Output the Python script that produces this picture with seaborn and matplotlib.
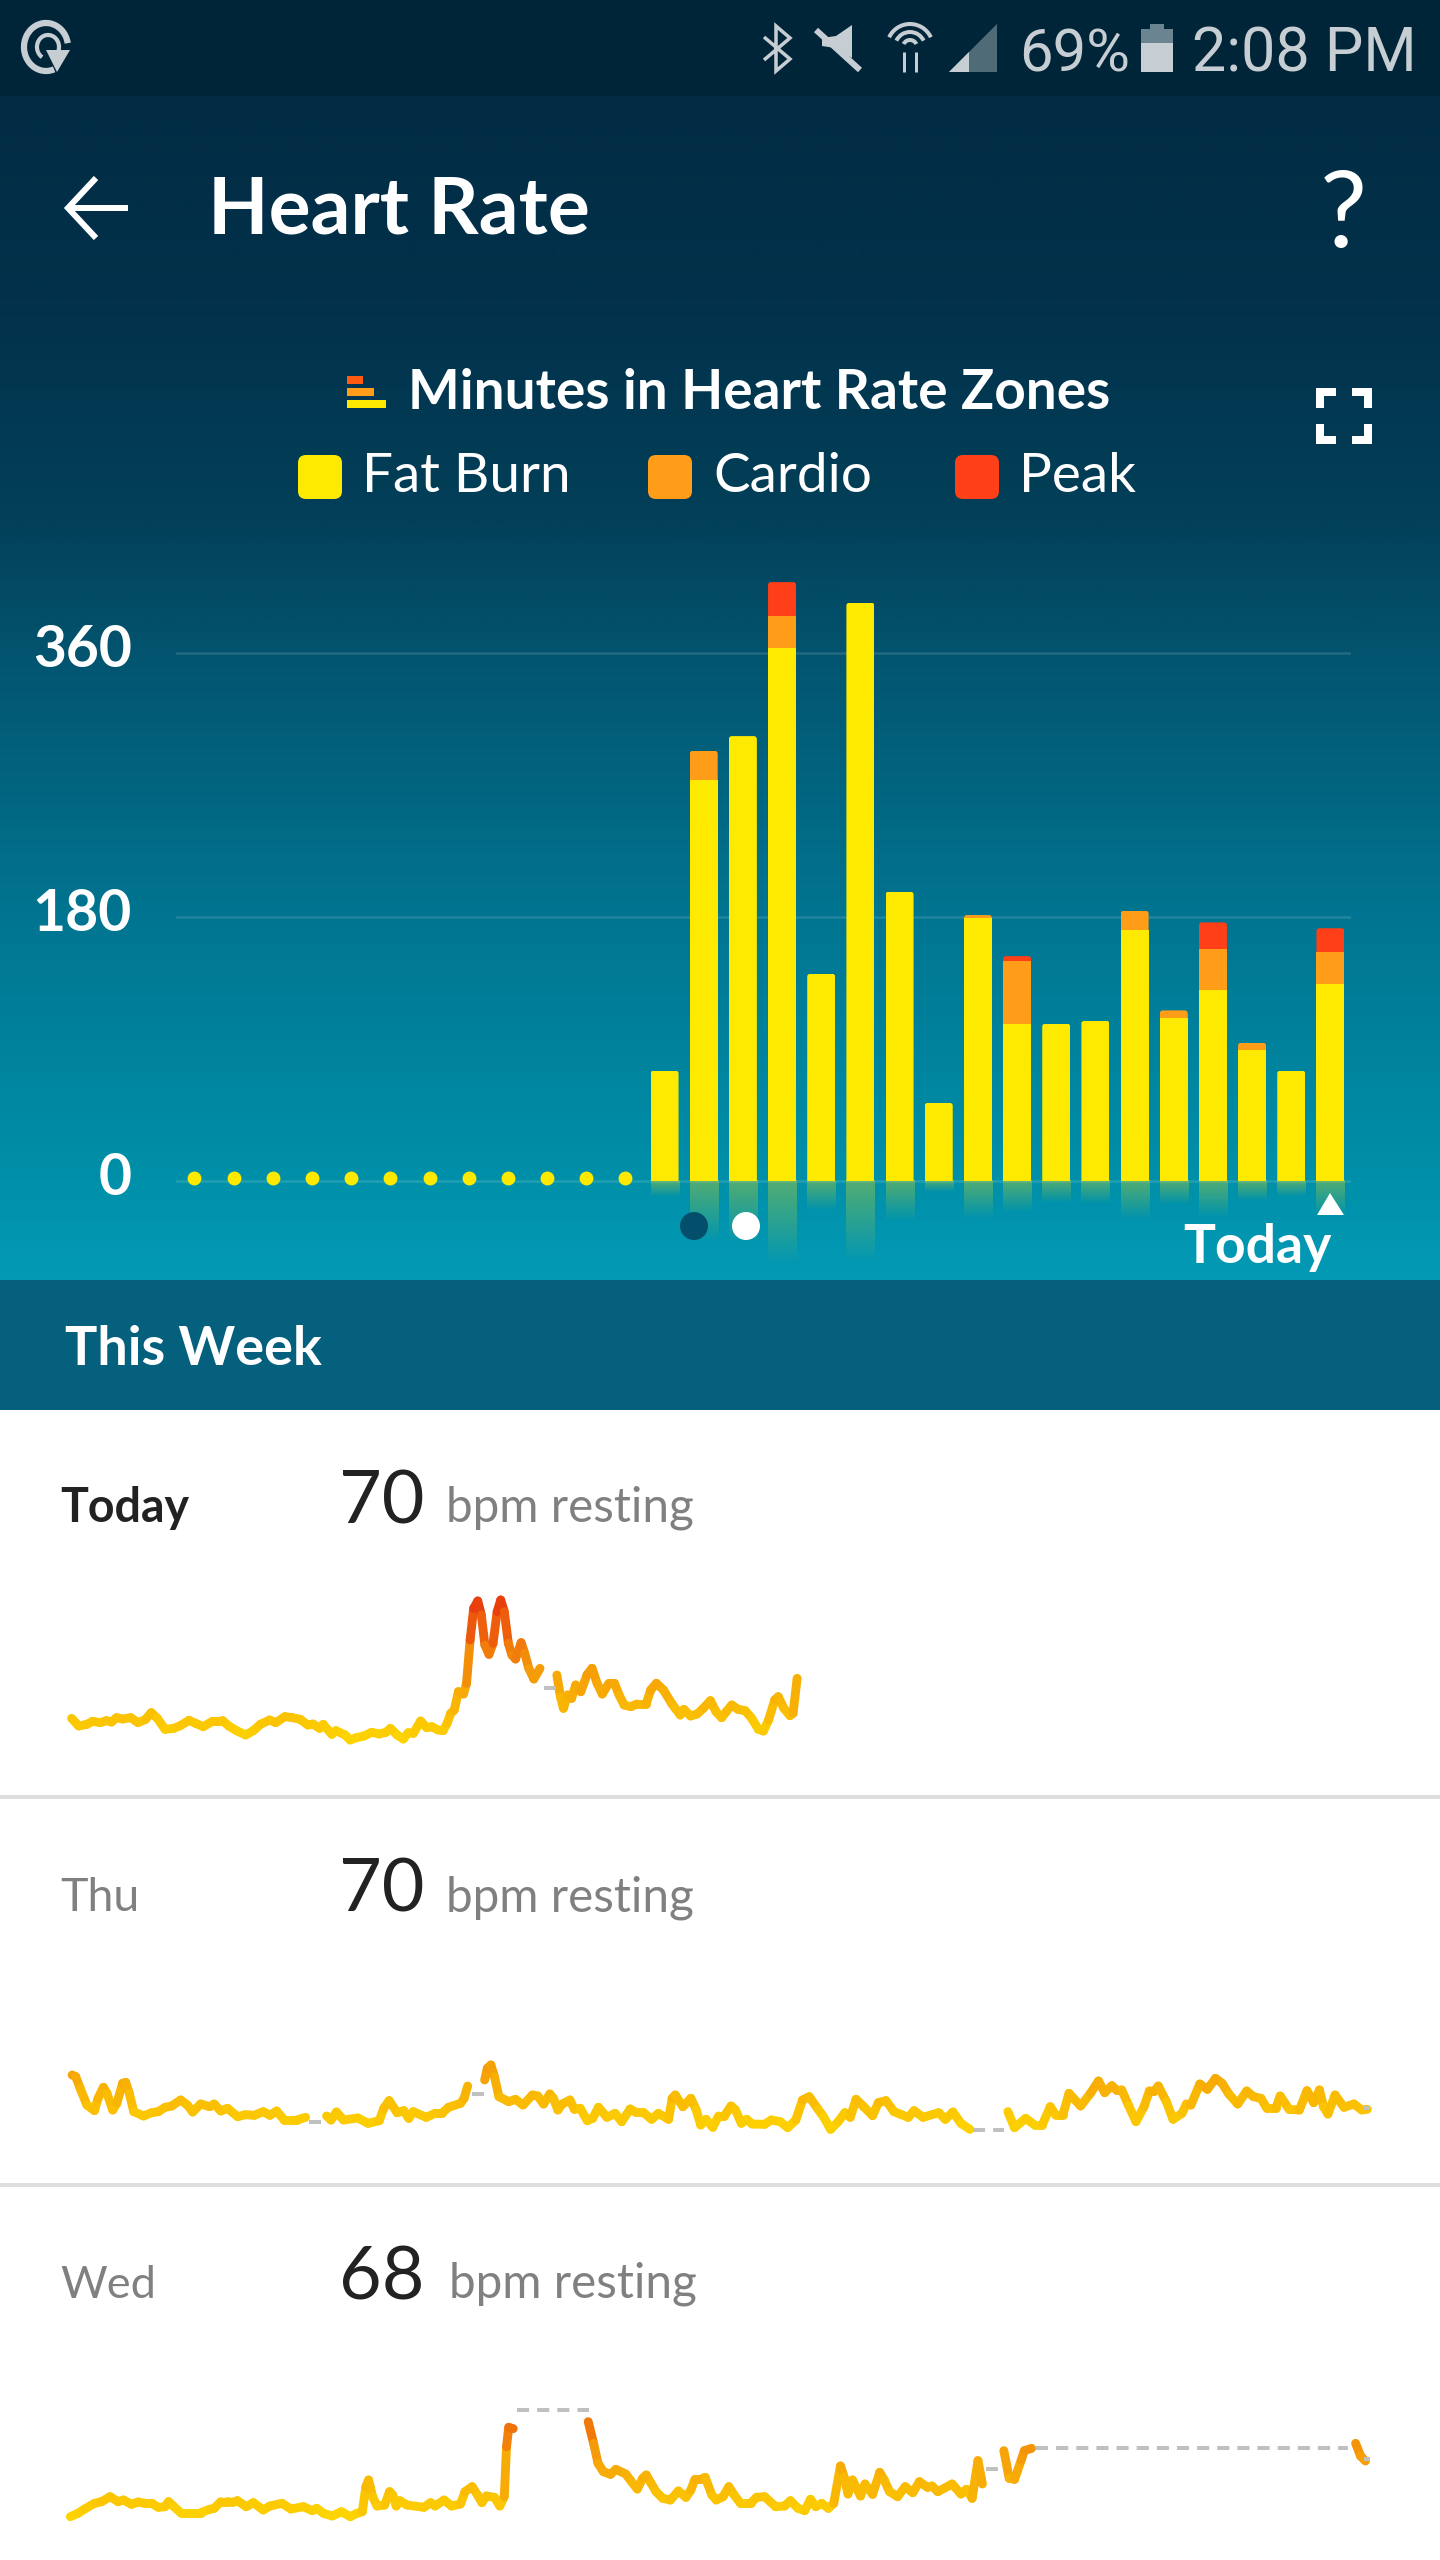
from __future__ import annotations

import matplotlib

matplotlib.use("Agg")

import matplotlib.pyplot as plt
import numpy as np
import pandas as pd
import seaborn as sns
from matplotlib.colors import LinearSegmentedColormap, Normalize, to_rgb
from matplotlib.patches import Arc, Circle, FancyBboxPatch, Polygon, Rectangle
from matplotlib.transforms import IdentityTransform, ScaledTranslation

W, H = 1440, 2560

# minutes per zone for the last 30 days (first 12 have no data)
DAYS = list(range(30))
FAT_BURN = [0] * 12 + [75, 273, 303, 363, 141, 394, 197, 53, 179, 107, 107, 109, 171, 111, 130, 89, 75, 134]
CARDIO = [0] * 12 + [0, 20, 0, 22, 0, 0, 0, 0, 2, 43, 0, 0, 13, 5, 28, 5, 0, 22]
PEAK = [0] * 12 + [0, 0, 0, 23, 0, 0, 0, 0, 0, 3, 0, 0, 0, 0, 18, 0, 0, 16]
EMPTY_DAYS = DAYS[:12]
EMPTY_LEVEL = [2] * 12
Y_TICKS = [0, 180, 360]
LEGEND_LABELS = ["Fat Burn", "Cardio", "Peak"]

# resting rows: label, resting bpm
ROW_LABELS = ["Today", "Thu", "Wed"]
ROW_RESTING = ["70", "70", "68"]

# sparklines, one x and one level list per unbroken run
TODAY_X1 = [62, 76, 92, 103, 118, 130, 140, 150, 162, 178, 192, 207, 218, 230, 245, 262, 275, 292, 305, 320, 338, 350, 358, 370, 385, 403, 418, 432, 450, 462, 480, 495, 510, 525, 535, 548, 555, 572, 580, 598, 608, 620, 635, 650, 665, 678, 687, 700, 712, 722, 732, 746, 758, 768, 780, 790, 798, 805, 812, 820, 830, 836, 843, 850, 858, 865, 872, 880, 888, 896, 903, 910, 918, 925, 932, 943, 950, 958, 968, 980]
TODAY_Y1 = [125, 102, 107, 116, 112, 118, 114, 127, 123, 127, 112, 122, 142, 125, 92, 95, 103, 119, 110, 100, 116, 115, 118, 102, 88, 75, 88, 107, 120, 112, 130, 127, 122, 105, 108, 95, 107, 77, 88, 75, 60, 67, 72, 83, 78, 83, 95, 75, 63, 82, 80, 117, 97, 100, 90, 88, 110, 140, 150, 205, 198, 230, 360, 455, 477, 435, 345, 317, 350, 445, 480, 445, 350, 315, 303, 352, 320, 275, 243, 275]
TODAY_X2 = [1013, 1020, 1026, 1034, 1042, 1050, 1060, 1072, 1082, 1092, 1102, 1115, 1126, 1135, 1145, 1158, 1170, 1188, 1197, 1208, 1222, 1238, 1245, 1255, 1262, 1275, 1288, 1300, 1314, 1325, 1336, 1345, 1356, 1368, 1382, 1395, 1408, 1418, 1428, 1440, 1447, 1458, 1470, 1476, 1484]
TODAY_Y2 = [255, 190, 155, 195, 185, 225, 205, 255, 275, 230, 198, 230, 230, 195, 165, 160, 168, 168, 210, 230, 210, 170, 155, 135, 152, 132, 138, 155, 178, 145, 127, 145, 165, 152, 148, 125, 92, 87, 120, 180, 190, 155, 133, 140, 245]

THU_X1 = [72, 80, 90, 105, 122, 130, 142, 150, 163, 172, 185, 192, 200, 210, 232, 250, 265, 280, 295, 315, 330, 342, 360, 380, 390, 405, 420, 443, 460, 480, 500, 515, 530, 547, 575, 595]
THU_Y1 = [345, 340, 305, 255, 238, 275, 308, 290, 240, 260, 320, 323, 290, 235, 222, 232, 235, 248, 252, 270, 255, 234, 258, 250, 258, 237, 245, 220, 226, 224, 235, 224, 237, 210, 210, 218]
THU_X2 = [642, 652, 664, 680, 712, 735, 760, 770, 782, 800, 815, 826, 836, 865, 885, 900, 915, 942, 950, 958]
THU_Y2 = [222, 210, 234, 210, 216, 200, 208, 245, 268, 232, 238, 215, 235, 218, 230, 230, 248, 260, 275, 312]
THU_X3 = [996, 1002, 1010, 1018, 1028, 1050, 1065, 1082, 1103, 1115, 1128, 1142, 1150, 1160, 1170, 1187, 1197, 1210, 1226, 1238, 1251, 1270, 1288, 1303, 1322, 1335, 1352, 1370, 1385, 1408, 1416, 1423, 1440, 1458, 1470, 1480, 1492, 1507, 1520, 1533, 1548, 1558, 1571, 1583, 1595, 1623, 1638, 1658, 1675, 1693, 1708, 1723, 1743, 1755, 1771, 1788, 1803, 1815, 1828, 1845, 1865, 1878, 1895, 1913, 1928, 1945, 1958, 1978, 2013, 2028, 2045, 2063, 2083]
THU_Y3 = [330, 365, 375, 340, 280, 265, 272, 255, 285, 282, 258, 288, 275, 240, 258, 270, 242, 245, 208, 215, 248, 218, 230, 205, 243, 233, 232, 212, 230, 212, 275, 285, 250, 275, 240, 195, 212, 188, 222, 222, 252, 240, 200, 212, 198, 197, 210, 205, 187, 210, 270, 280, 242, 220, 182, 205, 232, 218, 272, 250, 223, 262, 268, 235, 227, 218, 238, 218, 232, 212, 234, 200, 182]
THU_X4 = [2168, 2183, 2208, 2228, 2245, 2263, 2275, 2291, 2305, 2331, 2353, 2371, 2385, 2401, 2413, 2423, 2438, 2455, 2473, 2485, 2495, 2505, 2523, 2538, 2558, 2568, 2578, 2598, 2615, 2633, 2648, 2663, 2683, 2703, 2718, 2735, 2748, 2768, 2778, 2798, 2821, 2838, 2853, 2866, 2875, 2885, 2901, 2921, 2943, 2961, 2973]
THU_Y4 = [235, 187, 215, 195, 195, 250, 225, 225, 290, 252, 290, 327, 292, 313, 298, 300, 255, 205, 250, 297, 295, 312, 265, 212, 230, 258, 255, 318, 302, 335, 320, 288, 258, 297, 280, 275, 245, 245, 282, 242, 240, 298, 262, 300, 250, 228, 285, 248, 258, 240, 242]

WED_X1 = [68, 85, 100, 122, 138, 157, 175, 187, 205, 220, 235, 250, 265, 280, 288, 300, 315, 360, 380, 390, 405, 420, 432, 442, 462, 478, 500, 515, 542, 562, 590, 610, 620, 635, 655, 675, 695, 710, 722, 730, 736, 745, 755, 772, 783, 790, 798, 806, 822, 860, 875, 885, 905, 922, 942, 952, 968, 980, 990, 1000, 1018, 1030, 1040, 1045, 1050, 1060]
WED_Y1 = [130, 140, 153, 170, 175, 190, 175, 180, 167, 174, 170, 170, 158, 160, 175, 160, 142, 142, 152, 155, 175, 175, 173, 178, 160, 172, 150, 162, 170, 153, 160, 148, 155, 140, 132, 145, 130, 140, 145, 220, 240, 190, 162, 165, 205, 195, 162, 178, 165, 158, 172, 162, 180, 162, 168, 205, 220, 195, 172, 192, 188, 162, 190, 340, 398, 394]
WED_X2 = [1228, 1240, 1250, 1262, 1278, 1290, 1312, 1325, 1338, 1350, 1358, 1368, 1380, 1395, 1412, 1430, 1447, 1458, 1467, 1480, 1490, 1505, 1515, 1530, 1543, 1555, 1568, 1593, 1605, 1623, 1648, 1668, 1681, 1698, 1713, 1726, 1738, 1751, 1766, 1778, 1793, 1801, 1810, 1820, 1838, 1848, 1865, 1881, 1891, 1903, 1921, 1938, 1955, 1970, 1988, 1998, 2011, 2043, 2063, 2075, 2088, 2101, 2111]
WED_Y2 = [415, 350, 290, 265, 257, 272, 258, 235, 213, 245, 255, 232, 205, 185, 180, 207, 188, 210, 242, 242, 248, 195, 180, 190, 220, 195, 172, 172, 188, 190, 160, 162, 178, 155, 148, 182, 160, 170, 155, 170, 282, 250, 198, 240, 192, 228, 197, 263, 240, 205, 190, 220, 202, 235, 218, 222, 205, 228, 198, 212, 185, 298, 228]
WED_X3 = [2159, 2171, 2183, 2198, 2205, 2221]
WED_Y3 = [328, 245, 242, 300, 328, 335]
WED_X4 = [2947, 2958, 2969]
WED_Y4 = [350, 312, 297]

# missing stretches: start, end, level
TODAY_GAPS = [(988, 1012, 217)]
THU_GAPS = [(603, 630, 205), (968, 995, 289), (2090, 2160, 180), (2966, 2979, 247)]
WED_GAPS = [(1068, 1230, 450), (2120, 2147, 273), (2231, 2931, 337), (2966, 2979, 303)]

YELLOW, ORANGE, RED = "#fdea00", "#ff9d19", "#ff3f17"
STATUS_GREY = "#c6ced3"
BG_STOPS_Y = [96, 300, 520, 660, 900, 1180, 1280]
BG_STOPS_C = ["#022c44", "#02314b", "#034059", "#035570", "#01738f", "#0090a9", "#039ab6"]
SPARK_CMAP = LinearSegmentedColormap.from_list("hr", ["#fdd500", "#f59a08", "#e8360f"])
FONT = "Lato"


def px_axes(fig, x, y, w, h, zorder):
    ax = fig.add_axes([x / W, 1 - (y + h) / H, w / W, h / H], zorder=zorder)
    ax.patch.set_alpha(0)
    return ax


def poly(ax, pts, color, lw):
    xs, ys = zip(*pts)
    ax.plot(xs, ys, color=color, lw=lw * 0.72, solid_capstyle="butt", solid_joinstyle="miter")


def draw_background(ax):
    ax.set_xlim(0, W)
    ax.set_ylim(H, 0)
    ax.axis("off")
    rows = np.arange(96, 1281)
    rgb = np.array([to_rgb(c) for c in BG_STOPS_C])
    grad = np.stack([np.interp(rows, BG_STOPS_Y, rgb[:, i]) for i in range(3)], axis=1)[:, None, :]
    ax.imshow(grad, extent=(0, W, 1280, 96), aspect="auto", interpolation="bilinear")
    ax.set_xlim(0, W)
    ax.set_ylim(H, 0)
    ax.add_patch(Rectangle((0, 0), W, 96, color="#012538", lw=0))
    ax.add_patch(Rectangle((0, 1280), W, 130, color="#04607c", lw=0))
    ax.add_patch(Rectangle((0, 1410), W, H - 1410, color="white", lw=0))
    for y in (1797, 2185):
        ax.add_patch(Rectangle((0, y - 2), W, 4, color="#dedede", lw=0))


def draw_status_bar(ax):
    g = STATUS_GREY
    ax.add_patch(Arc((46, 47), 44, 48, theta1=70, theta2=350, color=g, lw=4.5))
    ax.add_patch(Arc((48, 47), 22, 24, theta1=120, theta2=400, color=g, lw=3))
    ax.add_patch(Polygon([(46, 50), (70, 50), (57, 72)], color=g, lw=0))
    poly(ax, [(764, 37), (790, 59), (776, 71), (776, 26), (790, 38), (764, 60)], g, 3.5)
    ax.add_patch(Polygon([(852, 25), (852, 58), (835, 48), (822, 46), (822, 38), (836, 36)], color=g, lw=0))
    poly(ax, [(816, 30), (860, 70)], g, 6)
    for r, lw in ((23, 4), (15, 4), (7, 4)):
        ax.add_patch(Arc((910, 47), 2 * r, 2 * r, theta1=205, theta2=335, color=g, lw=lw * 0.72))
    poly(ax, [(904, 52), (904, 72)], g, 3)
    poly(ax, [(916, 52), (916, 72)], g, 3)
    ax.add_patch(Polygon([(949, 72), (997, 72), (997, 24)], color="#4f6b78", lw=0))
    ax.add_patch(Polygon([(949, 72), (969, 72), (969, 52)], color=g, lw=0))
    ax.add_patch(Rectangle((1150, 24), 14, 6, color="#6a8591", lw=0))
    ax.add_patch(Rectangle((1141, 29), 32, 14, color="#6a8591", lw=0))
    ax.add_patch(Rectangle((1141, 43), 32, 29, color=g, lw=0))
    ax.text(1019, 72, "69%", color=g, fontsize=43, family="Roboto", weight="normal", va="baseline")
    ax.text(1192, 72, "2:08 PM", color=g, fontsize=44, family="Roboto", weight="normal", va="baseline")


def draw_header(ax):
    poly(ax, [(128, 208), (70, 208)], "white", 6)
    poly(ax, [(96, 178), (68, 208), (96, 238)], "white", 6)
    ax.text(208, 233, "Heart Rate", color="white", fontsize=56.5, family=FONT, weight="bold", va="baseline")
    ax.text(1343, 247, "?", color="white", fontsize=76, family=FONT, weight="normal", ha="center", va="baseline")
    for cx, cy, sx, sy in ((1316, 388, 1, 1), (1372, 388, -1, 1), (1316, 444, 1, -1), (1372, 444, -1, -1)):
        poly(ax, [(cx + 4 * sx, cy + 20 * sy), (cx + 4 * sx, cy + 4 * sy), (cx + 20 * sx, cy + 4 * sy)], "white", 8)
    for top, width, color in ((376, 16, "#ff5a10"), (388, 27, ORANGE), (400, 39, YELLOW)):
        ax.add_patch(Rectangle((347, top), width, 8, color=color, lw=0))
    ax.text(408, 409, "Minutes in Heart Rate Zones", color="white", fontsize=39.5, family=FONT, weight="bold", va="baseline")
    for x_sw, x_txt, label, color in zip((298, 648, 955), (362, 713, 1019), LEGEND_LABELS, (YELLOW, ORANGE, RED)):
        ax.add_patch(FancyBboxPatch((x_sw + 6, 461), 32, 32, boxstyle="round,pad=6,rounding_size=8", color=color, lw=0))
        ax.text(x_txt, 492, label, color="white", fontsize=39.5, family=FONT, weight="normal", va="baseline")
    ax.text(65, 1365, "This Week", color="white", fontsize=39, family=FONT, weight="bold", va="baseline")


def draw_chart(fig):
    ax = px_axes(fig, 176, 540, 1175, 740, 2)
    df = pd.DataFrame({"day": DAYS, "fat": FAT_BURN, "cardio": CARDIO, "peak": PEAK})
    fat, cardio, peak = df["fat"].to_numpy(), df["cardio"].to_numpy(), df["peak"].to_numpy()
    for col, color, bottom in (("fat", YELLOW, 0 * fat), ("cardio", ORANGE, fat), ("peak", RED, fat + cardio)):
        sns.barplot(data=df, x="day", y=col, color=color, saturation=1, width=0.715, bottom=bottom, errorbar=None,
                    linewidth=0, edgecolor="none", ax=ax, zorder=3)
    sns.scatterplot(x=EMPTY_DAYS, y=EMPTY_LEVEL, color=YELLOW, s=100, linewidth=0, ax=ax, zorder=3)

    ylim = (-67.8, 436.7)
    xlim = (-0.472, 29.525)

    # mirrored fade under the baseline
    fade = np.zeros((32, 1, 4))
    fade[..., :3] = to_rgb(YELLOW)
    fade[..., 3] = np.linspace(0.32, 0, 32)[:, None]
    total = fat + cardio + peak
    for day, height in zip(DAYS, total):
        if height > 0:
            ax.imshow(fade, extent=(day - 0.3575, day + 0.3575, -0.145 * height, 0), aspect="auto", zorder=2, interpolation="bilinear")

    ax.set_xlim(*xlim)
    ax.set_ylim(*ylim)
    ax.set_xticks([])
    ax.set_xlabel("")
    ax.set_ylabel("")
    ax.set_yticks(Y_TICKS)
    ax.set_yticklabels([str(t) for t in Y_TICKS], family=FONT, fontsize=41, weight="bold", color="white")
    ax.tick_params(axis="y", length=0, pad=32)
    offset = ScaledTranslation(0, 7 / 100, fig.dpi_scale_trans)
    for label in ax.get_yticklabels():
        label.set_transform(label.get_transform() + offset)
    ax.yaxis.grid(True, color="white", alpha=0.13, lw=1.8)
    ax.xaxis.grid(False)
    ax.set_axisbelow(True)
    for spine in ax.spines.values():
        spine.set_visible(False)

    # small rounded corners on the top segment of each bar
    for i, day in enumerate(DAYS):
        if total[i] == 0:
            continue
        layer = 2 if peak[i] else (1 if cardio[i] else 0)
        bar = ax.containers[layer][i]
        (x0, y0), (x1, y1) = ax.transData.transform([(bar.get_x(), bar.get_y()), (bar.get_x() + bar.get_width(), total[i])])
        clip = FancyBboxPatch((x0, y0 - 12), x1 - x0, y1 - y0 + 12, boxstyle="round,pad=0,rounding_size=3", transform=IdentityTransform())
        bar.set_clip_path(clip)
    return ax


def draw_front(ax):
    ax.set_xlim(0, W)
    ax.set_ylim(H, 0)
    ax.axis("off")
    ax.add_patch(Circle((694, 1226), 14, color="#034f6b", lw=0))
    ax.add_patch(Circle((746, 1226), 14, color="white", lw=0))
    ax.add_patch(Polygon([(1330, 1193), (1317, 1215), (1344, 1215)], color="white", lw=0))
    ax.text(1183, 1263, "Today", color="white", fontsize=38.5, family=FONT, weight="bold", va="baseline")


def sparkline(ax, runs, gaps, vmin, vmax, xmax, ymax):
    norm = Normalize(vmin, vmax)
    seg_x, seg_y, seg_id, palette = [], [], [], {}
    n = 0
    for xs, ys in runs:
        for i in range(len(xs) - 1):
            seg_x += [xs[i], xs[i + 1]]
            seg_y += [ys[i], ys[i + 1]]
            seg_id += [n, n]
            palette[n] = SPARK_CMAP(norm((ys[i] + ys[i + 1]) / 2))
            n += 1
    df = pd.DataFrame({"t": seg_x, "hr": seg_y, "seg": seg_id})
    sns.lineplot(data=df, x="t", y="hr", hue="seg", palette=palette, estimator=None, sort=False, legend=False,
                 linewidth=6.4, solid_capstyle="round", ax=ax)
    for x0, x1, level in gaps:
        ax.plot([x0, x1], [level, level], color="#c0c0c0", lw=2.9, dashes=(3, 2), dash_capstyle="butt")
    ax.set_xlim(0, xmax)
    ax.set_ylim(0, ymax)
    ax.axis("off")


def draw_rows(ax):
    label_y = (1522, 1911, 2298)
    for i, (name, rest, y) in enumerate(zip(ROW_LABELS, ROW_RESTING, label_y)):
        bold = i == 0
        ax.text(60, y, name, color="#222222" if bold else "#808080", fontsize=33.5 if i < 2 else 32.5, family=FONT, weight="bold" if bold else "normal", va="baseline")
        ax.text(339, y + 1, rest, color="#222222", fontsize=53, family=FONT, weight="normal", va="baseline")
        ax.text(446 if i < 2 else 449, y, "bpm resting", color="#808080", fontsize=34.3, family=FONT, weight="normal", va="baseline")


def main() -> None:
    sns.set_theme(style="white")
    plt.rcParams["font.family"] = [FONT, "DejaVu Sans"]

    fig = plt.figure(figsize=(W / 100, H / 100), dpi=100)
    bg = fig.add_axes([0, 0, 1, 1], zorder=0)
    draw_background(bg)
    draw_status_bar(bg)
    draw_header(bg)
    draw_rows(bg)

    draw_chart(fig)
    front = fig.add_axes([0, 0, 1, 1], zorder=3)
    front.patch.set_alpha(0)
    draw_front(front)

    sparkline(px_axes(fig, 40, 1540, 800, 220, 1), [(TODAY_X1, TODAY_Y1), (TODAY_X2, TODAY_Y2)], TODAY_GAPS, 60, 480, 1568, 660)
    sparkline(px_axes(fig, 40, 2030, 1400, 160, 1), [(THU_X1, THU_Y1), (THU_X2, THU_Y2), (THU_X3, THU_Y3), (THU_X4, THU_Y4)], THU_GAPS, 180, 580, 3136, 480)
    sparkline(px_axes(fig, 40, 2380, 1400, 180, 1), [(WED_X1, WED_Y1), (WED_X2, WED_Y2), (WED_X3, WED_Y3), (WED_X4, WED_Y4)], WED_GAPS, 130, 510, 3136, 540)

    fig.savefig("out.png", dpi=100)
    plt.close(fig)


if __name__ == "__main__":
    main()
